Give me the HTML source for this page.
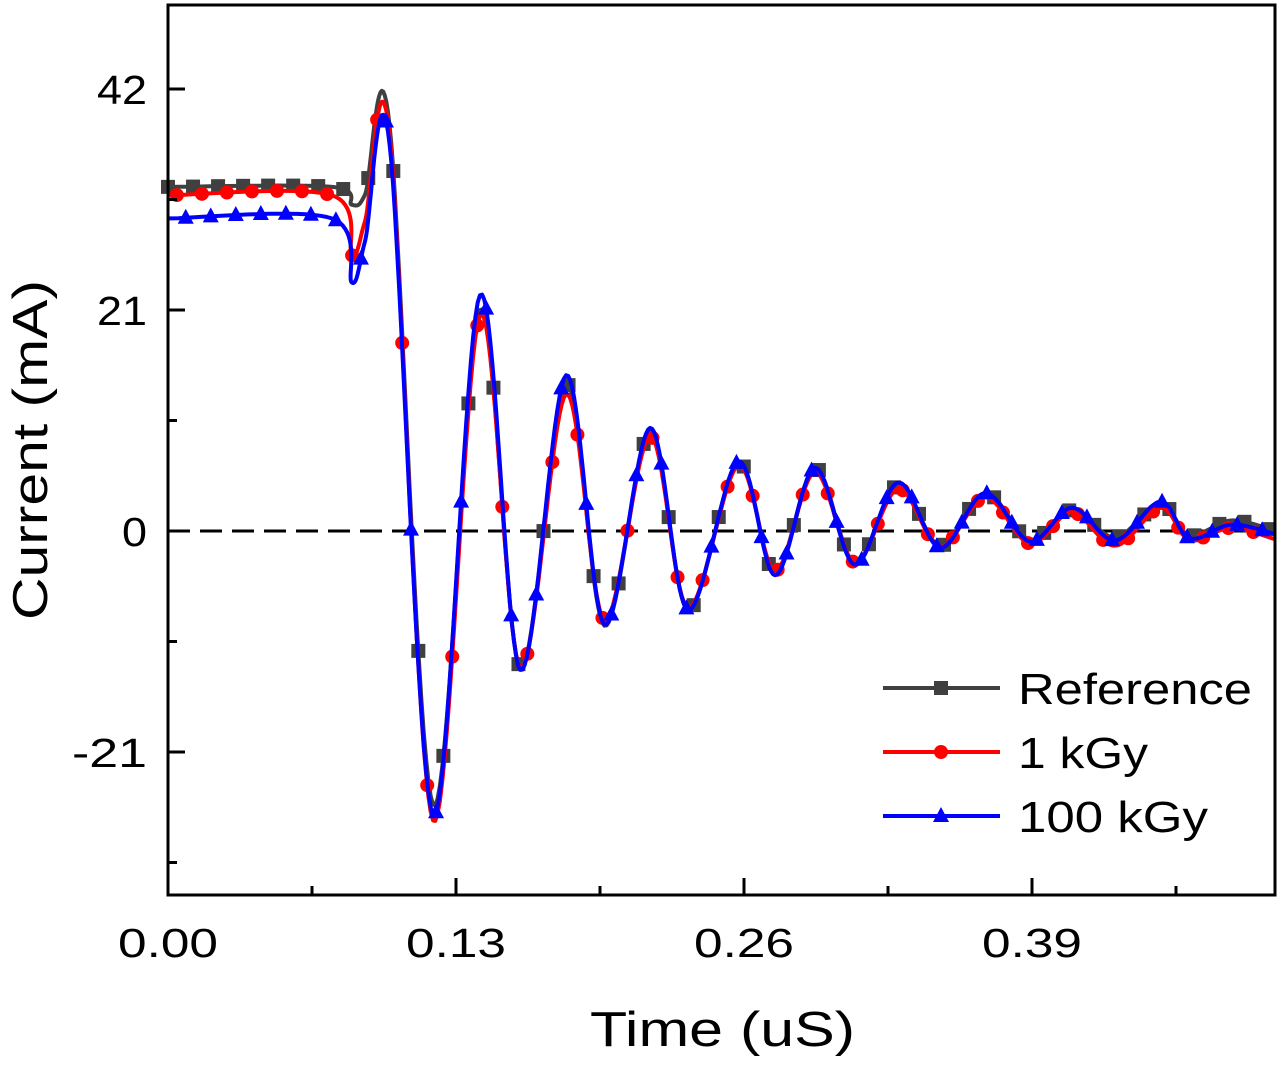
<!DOCTYPE html>
<html><head><meta charset="utf-8"><style>
body{margin:0;background:#fff;}
svg{display:block;font-family:"Liberation Sans",Arial,sans-serif;}
</style></head><body>
<svg id="chart" width="1280" height="1066" viewBox="0 0 1280 1066">
<g id="plot"></g>
<g id="axes"></g>
<g id="legend"></g>
</svg>
<script>
const xTicks=[0,0.13,0.26,0.39];
const xTickLabels=["0.00","0.13","0.26","0.39"];
const yTicks=[-21,0,21,42];
const yTickLabels=["-21","0","21","42"];
const times=[0,0.074,0.083,0.089,0.100,0.1196,0.1408,0.159,0.1797,0.197,0.2176,0.2347,0.2573,0.274,0.292,0.310,0.3295,0.3485,0.3688,0.389,0.408,0.4275,0.448,0.461,0.48,0.5];
const refValues=[32.7,32.7,31.0,32,38.6,-26,21,-13,14,-9,9.5,-7.5,6.5,-4,6,-3,4.4,-1.4,3.6,-0.8,2,-0.6,2.6,-0.4,1.0,0];
const kGy1Values=[31.9,31.9,26.2,29.5,37.8,-27.5,20.5,-13,13,-8.5,9.0,-7.3,6.2,-3.8,5.6,-3.0,4.0,-1.5,3.2,-1.2,1.8,-1.4,2.2,-0.8,0.3,-0.8];
const kGy100Values=[29.7,29.7,23.6,27.6,36.8,-27,22.4,-13.2,14.8,-8.9,9.8,-7.5,6.6,-4.2,6.0,-3.2,4.6,-1.6,3.6,-1.0,2.2,-0.9,2.8,-0.7,0.6,-0.3];
const seriesNames=["Reference","1 kGy","100 kGy"];

const X0=168,X1=1275,Y0=5,Y1=895;
const xs=t=>X0+t/0.13*288;
const ys=v=>531-v/21*221;
const NS="http://www.w3.org/2000/svg";
function mk(tag,attrs,parent){const e=document.createElementNS(NS,tag);for(const k in attrs)e.setAttribute(k,attrs[k]);parent.appendChild(e);return e;}
const plot=document.getElementById('plot'),axes=document.getElementById('axes'),leg=document.getElementById('legend');

function sample(vals){
  const pts=[];
  for(let i=0;i<times.length-1;i++){
    const p0=[times[Math.max(i-1,0)],vals[Math.max(i-1,0)]],p1=[times[i],vals[i]],p2=[times[i+1],vals[i+1]],p3=[times[Math.min(i+2,times.length-1)],vals[Math.min(i+2,times.length-1)]];
    for(let s=0;s<20;s++){
      const u=s/20,u2=u*u,u3=u2*u;
      const f=(a,b,c,d)=>0.5*((2*b)+(-a+c)*u+(2*a-5*b+4*c-d)*u2+(-a+3*b-3*c+d)*u3);
      pts.push([f(p0[0],p1[0],p2[0],p3[0]),f(p0[1],p1[1],p2[1],p3[1])]);
    }
  }
  pts.push([times[times.length-1],vals[vals.length-1]]);
  return pts;
}
function marker(type,x,y,color,parent){
  let e;
  if(type==='sq'){e=mk('rect',{x:x-7,y:y-7,width:14,height:14,fill:color},parent);}
  else if(type==='ci'){e=mk('circle',{cx:x,cy:y,r:7,fill:color},parent);}
  else{e=mk('polygon',{points:`${x},${y-9} ${x-8},${y+6} ${x+8},${y+6}`,fill:color},parent);}
  
  
}
const zl=mk('line',{x1:X0,x2:X1,y1:ys(0),y2:ys(0),stroke:'#000','stroke-width':3,'stroke-dasharray':'22 10'},plot);



const series=[[refValues,'#404040','sq',0],[kGy1Values,'#ff0000','ci',0.004],[kGy100Values,'#0000ff','tri',0.008]];
series.forEach((s,si)=>{
  const g=mk('g',{},plot);
  
  
  const pts=sample(s[0]);
  const p=mk('path',{d:'M'+pts.map(q=>xs(q[0]).toFixed(1)+','+ys(q[1]).toFixed(1)).join('L'),fill:'none',stroke:s[1],'stroke-width':4,'stroke-linejoin':'round'},g);
  
  
  for(let t=s[3];t<=0.5;t+=0.0113){
    let v=0;
    for(let i=0;i<pts.length-1;i++){if(pts[i][0]<=t&&pts[i+1][0]>=t){const r=(t-pts[i][0])/((pts[i+1][0]-pts[i][0])||1);v=pts[i][1]+r*(pts[i+1][1]-pts[i][1]);break;}}
    marker(s[2],xs(t),ys(v),s[1],g);
  }
});
const fr=mk('rect',{x:X0,y:Y0,width:X1-X0,height:Y1-Y0,fill:'none',stroke:'#000','stroke-width':3},axes);


for(let i=0;i<8;i++){
  const t=i*0.065,x=xs(t),major=i%2===0;
  const l=mk('line',{x1:x,x2:x,y1:Y1,y2:Y1-(major?17:9),stroke:'#000','stroke-width':3},axes);
  
  
}
xTicks.forEach((t,i)=>{
  const tx=mk('text',{x:xs(t)-50,y:957,'font-size':41,textLength:100,lengthAdjust:'spacingAndGlyphs'},axes);
  tx.textContent=xTickLabels[i];
  
  
});
for(let v=-31.5;v<=42;v+=10.5){
  const y=ys(v),major=Math.abs(v%21)<0.01;
  const l=mk('line',{x1:X0,x2:X0+(major?17:9),y1:y,y2:y,stroke:'#000','stroke-width':3},axes);
  
  
}
yTicks.forEach((v,i)=>{
  const w=yTickLabels[i].length*25;
  const tx=mk('text',{x:147-w,y:ys(v)+15,'font-size':41,textLength:w,lengthAdjust:'spacingAndGlyphs'},axes);
  tx.textContent=yTickLabels[i];
  
  
});
const xt=mk('text',{x:590,y:1046,'font-size':49,textLength:265,lengthAdjust:'spacingAndGlyphs'},axes);
xt.textContent='Time (uS)';


const yt=mk('text',{x:0,y:0,'font-size':49,textLength:340,lengthAdjust:'spacingAndGlyphs',transform:'translate(47,620) rotate(-90)'},axes);
yt.textContent='Current (mA)';


const legW=[234,130,190];
series.forEach((s,i)=>{
  const y=688+i*64;
  const g=mk('g',{},leg);
  
  
  mk('line',{x1:883,x2:1000,y1:y,y2:y,stroke:s[1],'stroke-width':4},g);
  marker(s[2],941,y,s[1],g);
  const tx=mk('text',{x:1018,y:y+16,'font-size':44,textLength:legW[i],lengthAdjust:'spacingAndGlyphs'},g);
  tx.textContent=seriesNames[i];
});
</script>
</body></html>
